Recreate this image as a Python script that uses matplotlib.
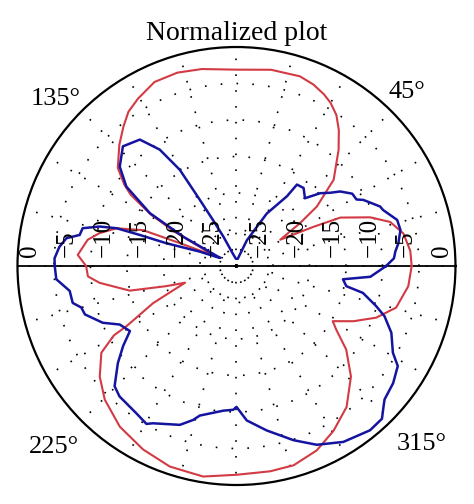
import numpy as np
import matplotlib
matplotlib.use("Agg")
import matplotlib.pyplot as plt
from matplotlib.transforms import offset_copy

# red pattern (angle in degrees, level in dB)
red_deg = [0, 5, 11, 16, 20, 25, 27, 31, 34, 36.5, 41.6, 48.7, 53, 56.5, 60, 63,
           67, 71.5, 80, 90, 100, 107, 114, 120.5, 125, 129, 134, 140.4, 144,
           146, 149, 151, 153, 155, 158, 159, 162.5, 166.5, 170, 176, 180, 184,
           187, 193, 196, 198, 204, 208.7, 209.5, 212.7, 219, 225.4, 234, 243,
           251.6, 261, 270, 279.3, 286, 293.5, 300.5, 308, 316, 322.7, 327.5,
           330.2, 334.7, 339.7, 345.4, 353.3, 360]
red_db = [-6.0, -6.1, -6.7, -8.1, -10.5, -14.3, -18.2, -23.0, -19.5, -16.3, -12.2,
          -8.8, -6.7, -5.2, -4.2, -3.6, -3.0, -2.6, -2.7, -3.1, -2.6, -2.3, -2.4,
          -3.4, -4.2, -5.4, -6.9, -8.9, -11.0, -12.5, -16.3, -20.3, -25.0, -27.0,
          -21.6, -16.3, -12.8, -10.7, -9.3, -8.2, -9.4, -9.6, -11.1, -15.0, -20.0,
          -22.6, -17.5, -12.8, -10.7, -8.0, -5.9, -4.3, -2.8, -1.8, -1.05, -0.8,
          -1.4, -1.5, -1.6, -2.45, -3.8, -5.5, -8.2, -11.1, -13.8, -14.8, -12.3,
          -9.6, -7.4, -6.3, -6.0]

# blue pattern (angle in degrees, level in dB)
blue_deg = [0, 2.8, 5.2, 8, 12.4, 16, 20.9, 22.5, 25.3, 27.5, 29, 32, 35.7, 38, 41,
            44.7, 49.3, 53.4, 54.1, 60, 68, 80, 95, 108, 114, 117, 119, 120.5,
            123.4, 127.4, 133.5, 139.6, 144.2, 148.6, 151.2, 153.5, 155.5, 158.6,
            162, 162.2, 162.5, 163.9, 166.2, 168.8, 170.7, 173.8, 177.6, 180,
            184.2, 188.5, 192.7, 195, 197.7, 203, 206.6, 211.4, 215.2, 219.3,
            224.6, 228.1, 235.8, 240.3, 242, 250.4, 254.3, 256.2, 264.8, 268.7,
            270, 273.8, 280.4, 288.1, 294.2, 301.3, 309.1, 313.6, 316.2, 318,
            323.2, 328.2, 331, 336.7, 341.3, 344, 348, 349.6, 352.9, 355.4, 360]
blue_db = [-9.5, -8.4, -8.15, -7.6, -7.0, -7.1, -8.5, -8.7, -9.7, -10.4, -11.2,
           -11.3, -12.5, -13.7, -14.8, -16.8, -15.9, -16.1, -18.2, -21.7, -26.2,
           -29.0, -29.0, -28.0, -25.6, -23.0, -19.6, -14.7, -10.9, -8.2, -7.4,
           -9.0, -11.4, -16.1, -21.7, -27.5, -27.0, -24.6, -19.9, -16.1, -12.8,
           -10.5, -8.3, -8.1, -6.4, -5.6, -5.05, -5.1, -5.25, -6.9, -7.0, -8.0,
           -8.2, -10.1, -12.1, -12.9, -11.0, -9.0, -6.55, -6.0, -5.6, -5.1, -5.6,
           -6.9, -8.1, -8.9, -10.1, -10.3, -10.7, -8.8, -7.1, -4.9, -3.15, -1.8,
           -1.0, -1.1, -2.1, -2.7, -3.2, -4.0, -5.5, -6.9, -8.6, -10.1, -12.3,
           -14.7, -15.3, -11.6, -9.5]

r_ticks = [-25, -20, -15, -10, -5]
r_labels = ["0", "\u22125", "\u221210", "\u221215", "\u221220", "\u221225"]
r_label_vals = [0, -5, -10, -15, -20, -25]
angle_labels = ["45\u00b0", "135\u00b0", "225\u00b0", "315\u00b0"]
angle_label_theta = [45.9, 136.9, 224.3, 316.5]
angle_label_r = [3.6, 3.9, 5.0, 4.9]

plt.rcParams["font.family"] = ["Liberation Serif", "DejaVu Serif"]

fig = plt.figure(figsize=(4.74, 5.04), dpi=100)
ax = fig.add_axes([0.0369, 0.0377, 0.924, 0.869], projection="polar")
ax.set_ylim(-30, 0)
ax.set_xticks(np.deg2rad(np.arange(0, 360, 15)))
ax.set_yticks(r_ticks)
ax.tick_params(labelbottom=False, labelleft=False, length=0)
ax.grid(True, color="black", linestyle=(0, (1, 8.5)), linewidth=1.2)
ax.spines["polar"].set_linewidth(1.6)
ax.spines["polar"].set_color("black")

# solid horizontal axis through the centre
ax.plot([0, 0], [-30, 0], color="black", lw=1.3)
ax.plot([np.pi, np.pi], [-30, 0], color="black", lw=1.3)

ax.plot(np.deg2rad(red_deg), red_db, color="#d23a44", lw=1.5)
ax.plot(np.deg2rad(blue_deg), blue_db, color="#1414a0", lw=1.8)

# radial labels on both sides, rotated
left_tr = offset_copy(ax.transData, fig, x=13, y=9, units="dots")
right_tr = offset_copy(ax.transData, fig, x=-13, y=9, units="dots")
for v, s in zip(r_label_vals, r_labels):
    ax.text(np.pi, v, s, transform=left_tr, rotation=90, ha="center",
            va="bottom", fontsize=18, clip_on=False)
    ax.text(0, v, s, transform=right_tr, rotation=90, ha="center",
            va="bottom", fontsize=18, clip_on=False)

for s, a, r in zip(angle_labels, angle_label_theta, angle_label_r):
    ax.text(np.deg2rad(a), r, s, ha="center", va="center_baseline",
            fontsize=19, clip_on=False)

fig.text(0.5, 1 - 40 / 504, "Normalized plot", ha="center", va="baseline",
         fontsize=20)

fig.savefig("out.png", dpi=100)
